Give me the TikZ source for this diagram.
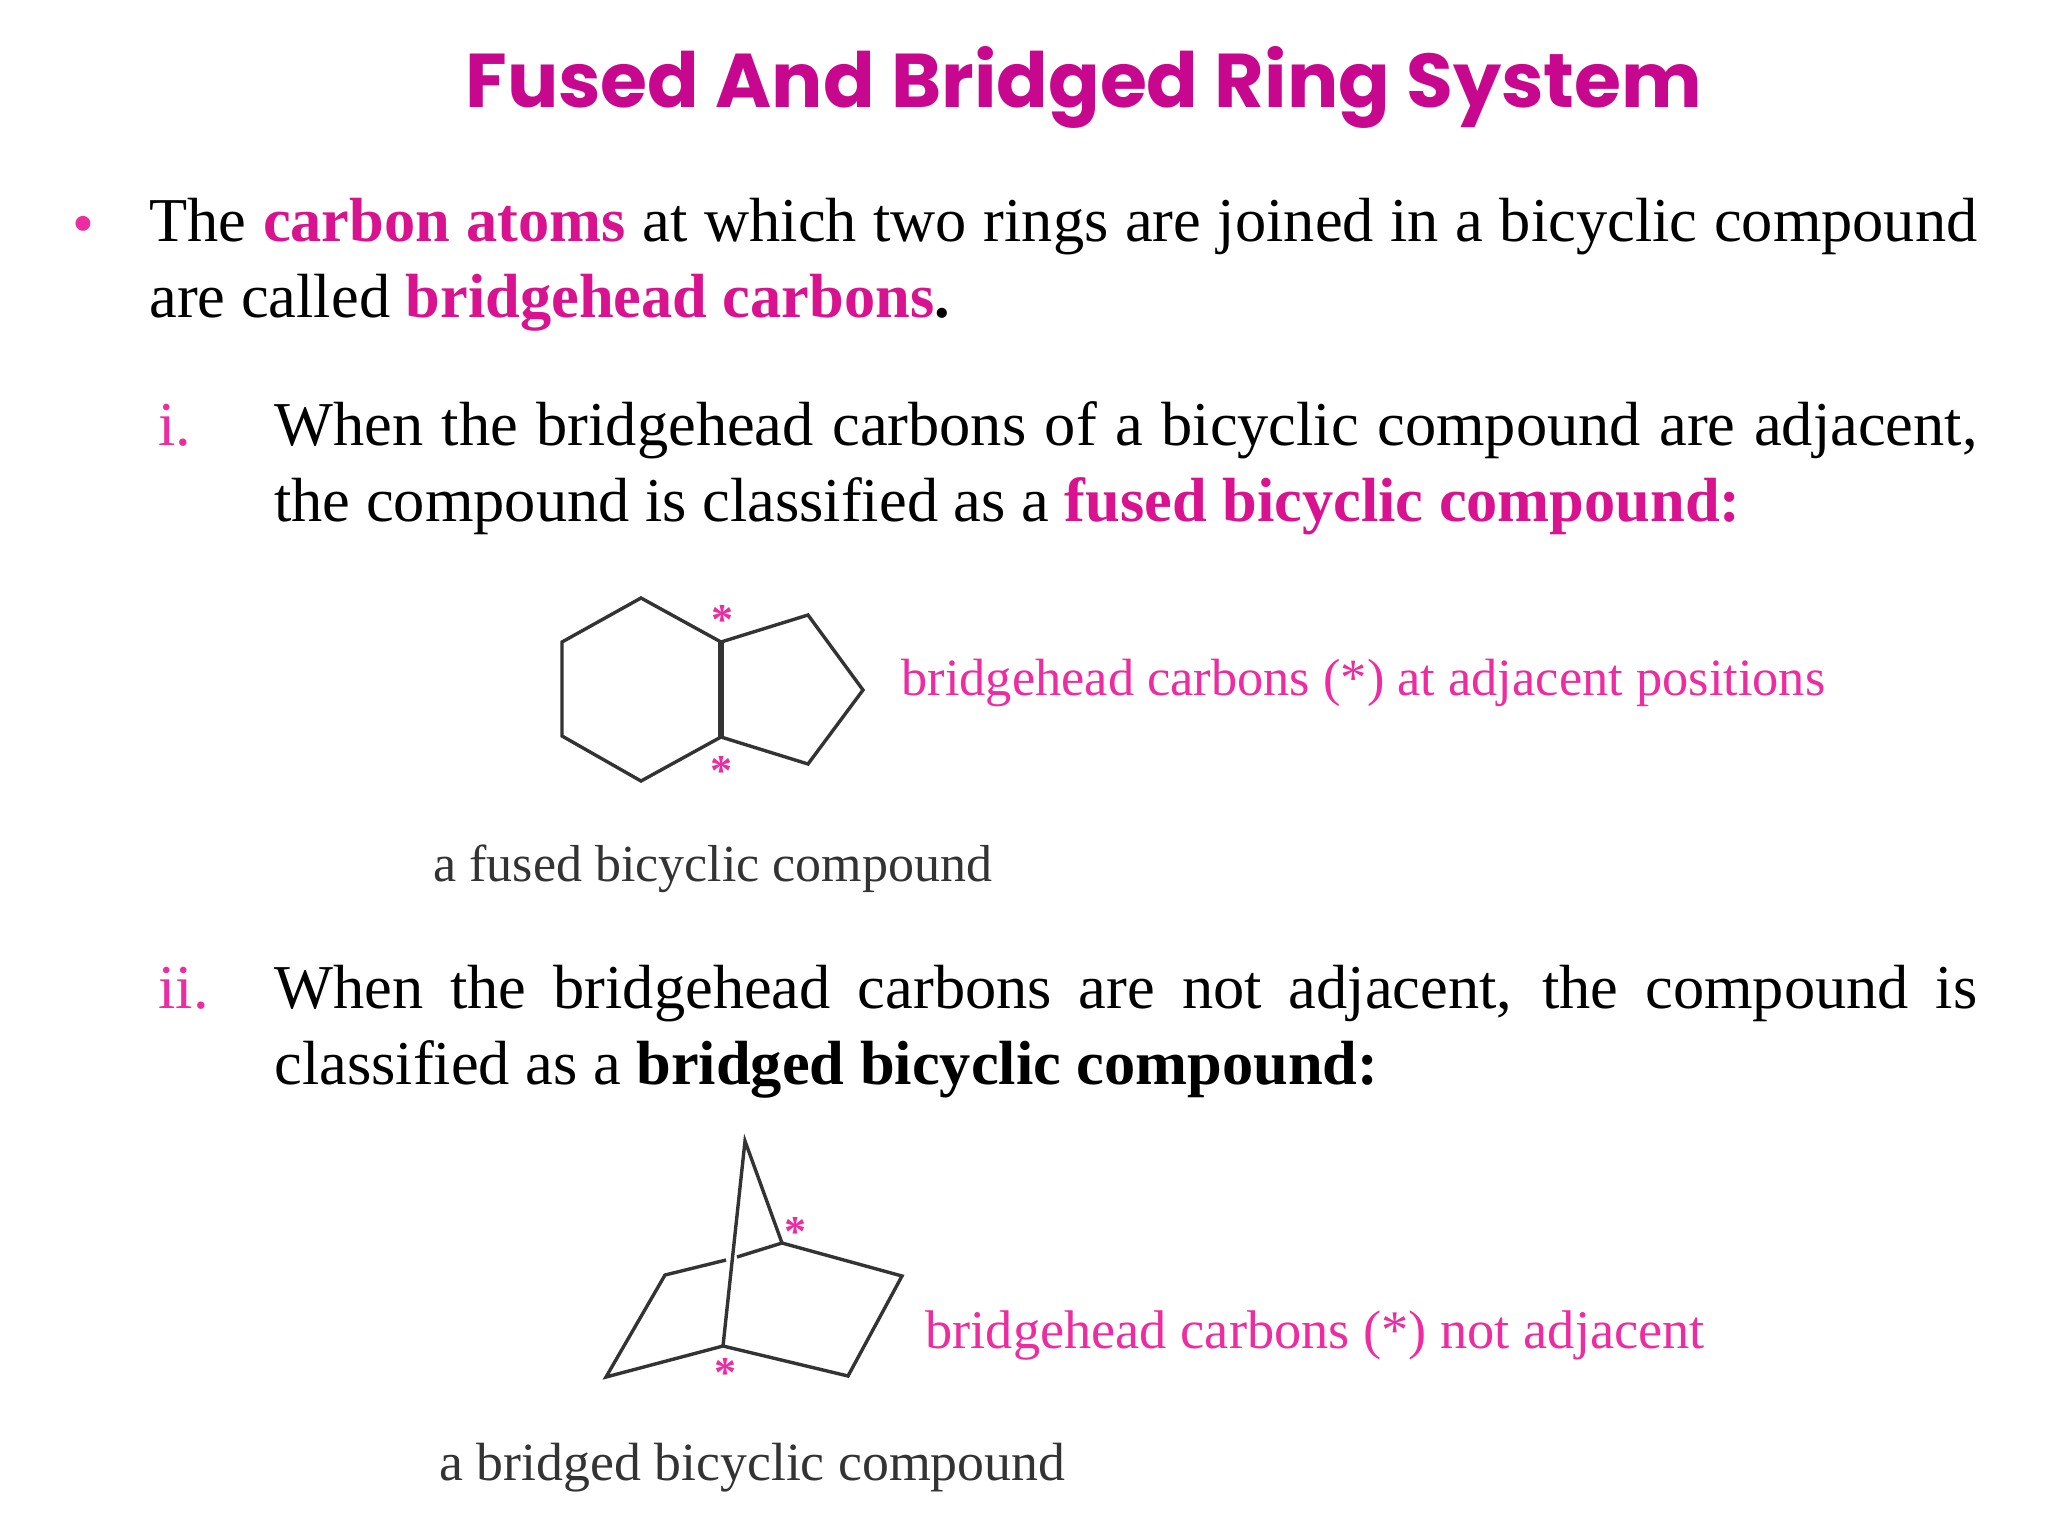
\documentclass[tikz,border=0pt]{standalone}
\usepackage{fontspec}
\setmainfont{Liberation Serif}
\newfontfamily\titlefont{Poppins}
\usepackage{xcolor}
\definecolor{titlepink}{HTML}{C8078F}
\definecolor{hilite}{HTML}{D9128F}
\definecolor{labelpink}{HTML}{EC2CA0}
\definecolor{bond}{HTML}{333333}
\newcommand{\hl}[1]{{\bfseries\color{hilite}#1}}

\tikzset{
	bodytext/.style={anchor=base west, inner sep=0pt, text width=851.5pt, align=justify, font=\fontsize{31.2}{38}\selectfont},
	marker/.style={anchor=base west, inner sep=0pt, text=labelpink, font=\fontsize{31.2}{38}\selectfont},
	caption/.style={anchor=base west, inner sep=0pt, text=bond, font=\fontsize{26}{30}\selectfont},
	pinklabel/.style={anchor=base west, inner sep=0pt, text=labelpink, font=\fontsize{26.2}{30}\selectfont},
	star/.style={inner sep=0pt, text=labelpink, font=\bfseries\fontsize{22}{22}\selectfont},
	ringbond/.style={color=bond, line width=1.7pt, line join=miter}
}

\begin{document}
\begin{tikzpicture}[x=0.5pt,y=-0.5pt]
	\useasboundingbox (0,0) rectangle (2048,1536);

	\node[anchor=base west, inner sep=0pt, text=titlepink, font=\titlefont\bfseries\fontsize{38.1}{40}\selectfont] (title) at (465,108) {Fused And Bridged Ring System};

	\node[marker] (bullet) at (72,244) {\textbullet};
	\node[bodytext, text width=914pt] (intro) at (149,241) {The \hl{carbon atoms} at which two rings are joined in a bicyclic compound\linebreak are called \hl{bridgehead carbons}\textbf{.}};

	\node[marker] (mark1) at (158,445) {i.};
	\node[bodytext] (para1) at (274,445) {When the bridgehead carbons of a bicyclic compound are adjacent,\linebreak the compound is classified as a \hl{fused bicyclic compound:}};

	% fused rings
	\coordinate (h1) at (562,642);
	\coordinate (h2) at (641,598);
	\coordinate (h3) at (721,642);
	\coordinate (h4) at (721,737);
	\coordinate (h5) at (641,781);
	\coordinate (h6) at (562,736);
	\coordinate (p1) at (808,615);
	\coordinate (p2) at (863,690);
	\coordinate (p3) at (808,764);
	\draw[ringbond] (h3) -- (h2) -- (h1) -- (h6) -- (h5) -- (h4);
	\draw[ringbond] (h3) -- (p1) -- (p2) -- (p3) -- (h4);
	\draw[ringbond, line width=2.6pt] (h3) -- (h4);
	\node[star] (s1) at (722,620) {*};
	\node[star] (s2) at (721,771) {*};

	\node[pinklabel] (fusedlabel) at (901,695) {bridgehead carbons (*) at adjacent positions};
	\node[caption] (fusedname) at (433,881) {a fused bicyclic compound};

	\node[marker] (mark2) at (158,1008) {ii.};
	\node[bodytext] (para2) at (274,1008) {When the bridgehead carbons are not adjacent, the compound is\linebreak classified as a \textbf{bridged bicyclic compound:}};

	% bridged rings
	\coordinate (b1) at (782,1243);
	\coordinate (b2) at (723,1346);
	\coordinate (top) at (745,1141);
	\coordinate (r1) at (902,1276);
	\coordinate (r2) at (848,1376);
	\coordinate (l1) at (606,1377);
	\coordinate (l2) at (665,1275);
	\coordinate (gapa) at (726,1260);
	\coordinate (gapb) at (737,1257);
	\draw[ringbond] (b2) -- (top) -- (b1) -- (r1) -- (r2) -- (b2) -- (l1) -- (l2) -- (gapa);
	\draw[ringbond] (gapb) -- (b1);
	\node[star] (s3) at (795,1232) {*};
	\node[star] (s4) at (725,1373) {*};

	\node[pinklabel, font=\fontsize{27.2}{30}\selectfont] (bridgedlabel) at (925,1348) {bridgehead carbons (*) not adjacent};
	\node[caption, font=\fontsize{26.9}{30}\selectfont] (bridgedname) at (439,1480) {a bridged bicyclic compound};
\end{tikzpicture}
\end{document}
